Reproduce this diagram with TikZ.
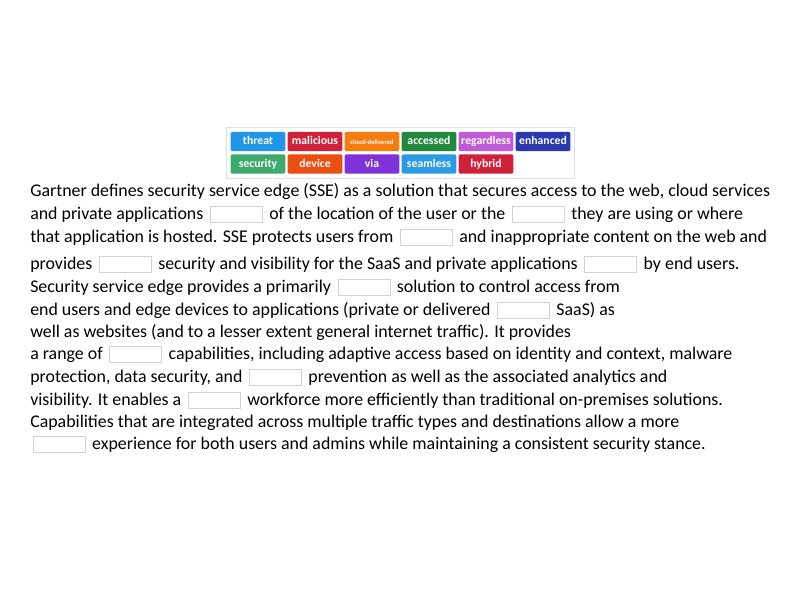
\documentclass[tikz,border=0pt]{standalone}
\usepackage{fontspec}
\setmainfont{Carlito}
\newcommand\gapbox{\hspace{2pt}\raisebox{-2.5pt}{\tikz[baseline]\draw[gray!35,fill=white] (0,0) rectangle (39pt,12pt);}\hspace{2pt}}
\begin{document}
\begin{tikzpicture}[x=0.75pt,y=-0.75pt,
  tile/.style={rounded corners=1pt,minimum width=41pt,minimum height=14.5pt,inner sep=0pt,text=white,text height=6.5pt,text depth=1.8pt,font=\bfseries\fontsize{8.8}{9}\selectfont},
  line/.style={anchor=base west,inner sep=0pt,font=\fontsize{13.4}{15}\selectfont}]
\useasboundingbox (0,0) rectangle (800,600);
\fill[white] (0,0) rectangle (800,600);
\draw[gray!25,fill=white] (226,127) rectangle (574,178);
\definecolor{c1}{HTML}{2196E8}\definecolor{c2}{HTML}{D0213A}\definecolor{c3}{HTML}{F57C10}
\definecolor{c4}{HTML}{23893F}\definecolor{c5}{HTML}{C05BD8}\definecolor{c6}{HTML}{2A3AAE}
\definecolor{c7}{HTML}{3DAA6B}\definecolor{c8}{HTML}{EA4E10}\definecolor{c9}{HTML}{7F32D8}
\definecolor{c10}{HTML}{2A9AE6}\definecolor{c11}{HTML}{D0213A}
\node[tile,fill=c1] (t1) at (258,141.5) {threat};
\node[tile,fill=c2] (t2) at (315,141.5) {malicious};
\node[tile,fill=c3,font=\bfseries\fontsize{5}{6}\selectfont] (t3) at (372,141.5) {cloud-delivered};
\node[tile,fill=c4] (t4) at (429,141.5) {accessed};
\node[tile,fill=c5] (t5) at (486,141.5) {regardless};
\node[tile,fill=c6] (t6) at (543,141.5) {enhanced};
\node[tile,fill=c7] (t7) at (258,164) {security};
\node[tile,fill=c8] (t8) at (315,164) {device};
\node[tile,fill=c9] (t9) at (372,164) {via};
\node[tile,fill=c10] (t10) at (429,164) {seamless};
\node[tile,fill=c11] (t11) at (486,164) {hybrid};
\node[line] (l1) at (30,196) {Gartner defines security service edge (SSE) as a solution that secures access to the web, cloud services};
\node[line] (l2) at (30,219) {and private applications \gapbox\ of the location of the user or the \gapbox\ they are using or where};
\node[line] (l3) at (30,242) {that application is hosted. SSE protects users from \gapbox\ and inappropriate content on the web and};
\node[line] (l4) at (30,269) {provides \gapbox\ security and visibility for the SaaS and private applications \gapbox\ by end users.};
\node[line] (l5) at (30,292) {Security service edge provides a primarily \gapbox\ solution to control access from};
\node[line] (l6) at (30,315) {end users and edge devices to applications (private or delivered \gapbox\ SaaS) as};
\node[line] (l7) at (30,337) {well as websites (and to a lesser extent general internet traffic). It provides};
\node[line] (l8) at (30,359) {a range of \gapbox\ capabilities, including adaptive access based on identity and context, malware};
\node[line] (l9) at (30,382) {protection, data security, and \gapbox\ prevention as well as the associated analytics and};
\node[line] (l10) at (30,405) {visibility. It enables a \gapbox\ workforce more efficiently than traditional on-premises solutions.};
\node[line] (l11) at (30,427) {Capabilities that are integrated across multiple traffic types and destinations allow a more};
\node[line] (l12) at (30,449) {\gapbox\ experience for both users and admins while maintaining a consistent security stance.};
\end{tikzpicture}
\end{document}
